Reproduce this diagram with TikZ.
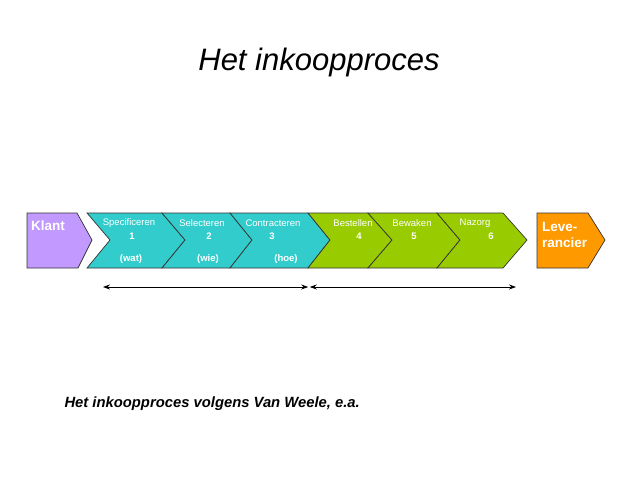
\documentclass[tikz,border=0pt]{standalone}
\usepackage{fontspec}
\setmainfont{Liberation Sans}
\usetikzlibrary{arrows.meta}
\definecolor{klant}{HTML}{C299FF}
\definecolor{teal}{HTML}{33CCCC}
\definecolor{grn}{HTML}{99CC00}
\definecolor{orng}{HTML}{FF9900}
\begin{document}
\begin{tikzpicture}[x=1pt,y=-1pt,
  shp/.style={draw=black!80,line width=0.7pt,line join=miter},
  lbl/.style={text=white,font=\fontsize{9.5}{10}\selectfont,inner sep=0pt},
  num/.style={text=white,font=\bfseries\fontsize{9.5}{10}\selectfont,inner sep=0pt},
  big/.style={text=white,font=\bfseries\fontsize{13.5}{16}\selectfont,inner sep=0pt,align=left},
  span/.style={{Stealth[length=7pt,width=5pt]}-{Stealth[length=7pt,width=5pt]},line width=0.8pt}]
\useasboundingbox (0,0) rectangle (638,479);
\node[font=\itshape\fontsize{31}{36}\selectfont] (title) at (319,62) {Het inkoopproces};
% Klant
\draw[shp,fill=klant] (27,213) -- (77,213) -- (92,240) -- (78,268) -- (27,268) -- cycle;
\node[big,anchor=west] (klant) at (31,226) {Klant};
% teal chevrons
\draw[shp,fill=teal] (87,213) -- (162,213) -- (185,240) -- (162,268) -- (87,268) -- (110,240) -- cycle;
\draw[shp,fill=teal] (162,213) -- (230,213) -- (252,240) -- (230,268) -- (162,268) -- (185,240) -- cycle;
\draw[shp,fill=teal] (230,213) -- (308,213) -- (330,240) -- (308,268) -- (230,268) -- (252,240) -- cycle;
% green chevrons
\draw[shp,fill=grn] (308,213) -- (368,213) -- (392,240) -- (368,268) -- (308,268) -- (330,240) -- cycle;
\draw[shp,fill=grn] (368,213) -- (437,213) -- (460,240) -- (437,268) -- (368,268) -- (392,240) -- cycle;
\draw[shp,fill=grn] (437,213) -- (503,213) -- (527,240) -- (503,268) -- (437,268) -- (460,240) -- cycle;
% Leverancier
\draw[shp,fill=orng] (537,213) -- (588,213) -- (605,240) -- (588,268) -- (537,268) -- cycle;
\node[big,anchor=west] (lev) at (542,235) {Leve-\\rancier};
% labels
\node[lbl] (s1) at (129,223) {Specificeren};
\node[num] (n1) at (132,236) {1};
\node[num] (w1) at (131,259) {(wat)};
\node[lbl] (s2) at (202,223) {Selecteren};
\node[num] (n2) at (209,236) {2};
\node[num] (w2) at (208,259) {(wie)};
\node[lbl] (s3) at (273,223) {Contracteren};
\node[num] (n3) at (272,236) {3};
\node[num] (w3) at (286,259) {(hoe)};
\node[lbl] (s4) at (353,223) {Bestellen};
\node[num] (n4) at (359,236) {4};
\node[lbl] (s5) at (412,223) {Bewaken};
\node[num] (n5) at (414,236) {5};
\node[lbl] (s6) at (475,223) {Nazorg};
\node[num] (n6) at (491,236) {6};
% spans
\coordinate (a) at (103,287);
\coordinate (m) at (309,287);
\coordinate (b) at (516,287);
\draw[span] (a) -- ([xshift=-0.8pt]m);
\draw[span] ([xshift=0.8pt]m) -- (b);
\node[font=\bfseries\itshape\fontsize{14.8}{18}\selectfont,anchor=west] (foot) at (61,404) {Het inkoopproces volgens Van Weele, e.a.};
\end{tikzpicture}
\end{document}
